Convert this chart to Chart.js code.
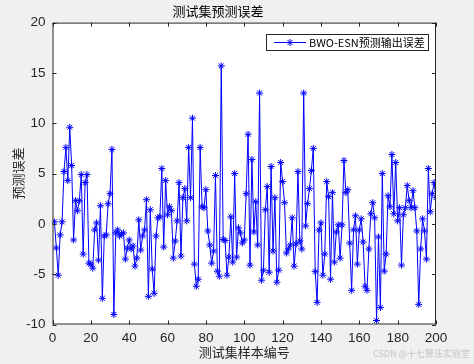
<!DOCTYPE html>
<html>
<head>
<meta charset="utf-8">
<title>测试集预测误差</title>
<script src="https://cdn.jsdelivr.net/npm/chart.js@4.4.1/dist/chart.umd.min.js"></script>
<style>
    html, body { margin: 0; padding: 0; background: #f0f0f0; }
    #wrap { position: relative; width: 474px; height: 364px; }
</style>
</head>
<body>
<div id="wrap"><canvas id="errChart"></canvas></div>
<script>
const chartTitle = '测试集预测误差';
const xAxisTitle = '测试集样本编号';
const yAxisTitle = '预测误差';
const seriesName = 'BWO-ESN预测输出误差';
const watermark = 'CSDN @十七算法实验室';

const xTicks = [0, 20, 40, 60, 80, 100, 120, 140, 160, 180, 200];
const yTicks = [-10, -5, 0, 5, 10, 15, 20];

// prediction error of each test sample
const errorVals = [
    0.2, -2.4, -5.1, -1.1, 0.2, 5.2, 7.6, 4.3, 9.6, 5.8,
    -1.6, 2.3, 1.3, 2.3, 4.9, -3.0, 4.1, 4.9, -3.9, -4.0,
    -4.4, -0.6, 0.1, -3.6, 1.8, -7.4, -1.2, -1.1, 2.0, 3.0,
    7.4, -9.0, -0.9, -0.6, -1.2, -1.0, -0.9, -3.5, -2.4, -1.6,
    -2.5, -2.2, -4.2, -3.4, 0.4, -2.6, -1.2, -0.6, 2.4, -7.2,
    1.4, -4.5, -6.9, -1.2, 0.6, 0.7, 5.5, -2.3, 4.3, 0.9,
    1.7, 1.3, -3.4, -1.7, 0.3, 4.1, -3.2, 2.6, 3.5, 0.3,
    7.6, 2.6, 10.5, -4.0, -6.2, -5.5, 7.6, 1.7, 1.6, 3.4,
    -0.7, -2.1, -3.9, -2.7, 4.8, -4.7, -5.2, 15.7, -1.55, -1.65,
    -5.1, -3.3, 0.7, -3.8, 5.0, -3.3, -0.4, -0.9, -1.9, -1.6,
    3.0, 8.9, -4.1, 6.4, -0.8, 2.2, -2.1, 13.0, -5.6, -4.6,
    1.4, 3.7, -4.8, 5.7, -2.7, 2.6, -5.8, -4.6, 6.1, 4.2,
    2.1, -2.9, -2.5, -2.1, 0.6, -4.2, -2.0, 5.2, -1.7, -2.5,
    13.0, -0.2, 2.0, 3.5, 5.3, 7.5, -4.75, -7.8, -0.6, 0.1,
    -5.1, -3.0, 4.2, 2.7, -5.5, 3.1, -3.8, -0.8, -0.1, -3.4,
    -0.1, 6.3, 3.1, 3.4, -1.9, -6.6, -0.6, 0.8, -4.0, -0.6,
    0.5, -1.8, -6.2, -6.6, -2.5, 1.0, 2.1, 0.6, -9.6, -1.3,
    -8.3, 5.0, -4.7, -3.0, 2.8, 1.7, 6.9, 1.0, 6.1, 0.3,
    1.6, -4.1, 0.9, 1.6, 3.8, 2.3, 1.6, 3.3, 1.6, -0.7,
    -8.0, -2.5, 0.5, -0.7, -3.5, 5.5, 1.2, 3.0, 4.1, 2.6
];
const sampleNo = errorVals.map((v, i) => i + 1);

const lineBlue = '#0000ff';
const axisGray = '#262626';
const cjkFont = '"Noto Sans CJK SC", "Liberation Sans", sans-serif';
const numFont = '"Liberation Sans", Arial, sans-serif';

function drawStar(ctx, cx, cy, r) {
    const d = r * Math.SQRT1_2;
    ctx.beginPath();
    ctx.moveTo(cx - r, cy); ctx.lineTo(cx + r, cy);
    ctx.moveTo(cx, cy - r); ctx.lineTo(cx, cy + r);
    ctx.moveTo(cx - d, cy - d); ctx.lineTo(cx + d, cy + d);
    ctx.moveTo(cx - d, cy + d); ctx.lineTo(cx + d, cy - d);
    ctx.stroke();
}

// MATLAB-like frame: grey figure, white axes, inward ticks on all sides, boxed legend
const matlabFrame = {
    id: 'matlabFrame',
    beforeDraw(chart) {
        const { ctx, chartArea: a } = chart;
        ctx.save();
        ctx.fillStyle = '#f0f0f0';
        ctx.fillRect(0, 0, chart.width, chart.height);
        ctx.fillStyle = '#ffffff';
        ctx.fillRect(a.left, a.top, a.right - a.left, a.bottom - a.top);
        ctx.restore();
    },
    afterDraw(chart) {
        const { ctx, chartArea: a, scales: { x, y } } = chart;
        ctx.save();
        ctx.strokeStyle = axisGray;
        ctx.lineWidth = 1;
        ctx.strokeRect(a.left + 0.5, a.top + 0.5, a.right - a.left - 1, a.bottom - a.top - 1);

        ctx.beginPath();
        xTicks.forEach(v => {
            const px = Math.round(x.getPixelForValue(v)) + 0.5;
            ctx.moveTo(px, a.bottom); ctx.lineTo(px, a.bottom - 4);
            ctx.moveTo(px, a.top); ctx.lineTo(px, a.top + 4);
        });
        yTicks.forEach(v => {
            const py = Math.round(y.getPixelForValue(v)) + 0.5;
            ctx.moveTo(a.left, py); ctx.lineTo(a.left + 4, py);
            ctx.moveTo(a.right, py); ctx.lineTo(a.right - 4, py);
        });
        ctx.stroke();

        // legend box in the upper right corner
        const lw = 162, lh = 16;
        const lx = Math.round(a.right - 8 - lw), ly = Math.round(a.top + 11);
        ctx.fillStyle = '#ffffff';
        ctx.fillRect(lx, ly, lw, lh);
        ctx.strokeStyle = axisGray;
        ctx.strokeRect(lx + 0.5, ly + 0.5, lw, lh);
        const my = ly + lh / 2 + 0.5;
        ctx.strokeStyle = lineBlue;
        ctx.beginPath();
        ctx.moveTo(lx + 8, my); ctx.lineTo(lx + 40, my);
        ctx.stroke();
        drawStar(ctx, lx + 24, my, 3.5);
        ctx.fillStyle = '#000000';
        ctx.font = '11px ' + cjkFont;
        ctx.textBaseline = 'middle';
        ctx.textAlign = 'left';
        ctx.fillText(seriesName, lx + 43, my);

        ctx.fillStyle = '#c4c4c4';
        ctx.font = '9px ' + cjkFont;
        ctx.textAlign = 'right';
        ctx.fillText(watermark, chart.width - 4, chart.height - 10);
        ctx.restore();
    }
};

new Chart(document.getElementById('errChart'), {
    type: 'line',
    data: {
        datasets: [{
            label: seriesName,
            data: sampleNo.map((n, i) => ({ x: n, y: errorVals[i] })),
            borderColor: lineBlue,
            borderWidth: 1,
            pointStyle: 'star',
            pointRadius: 3.5,
            pointBorderColor: lineBlue,
            pointBackgroundColor: lineBlue,
            pointBorderWidth: 1,
            tension: 0,
            fill: false
        }]
    },
    options: {
        responsive: true,
        maintainAspectRatio: false,
        animation: false,
        events: [],
        layout: { padding: { left: 0, right: 38, top: 0, bottom: 0 } },
        plugins: {
            legend: { display: false },
            tooltip: { enabled: false },
            title: {
                display: true,
                text: chartTitle,
                color: '#000000',
                font: { family: cjkFont, size: 13, weight: 'normal', lineHeight: 1.2 },
                padding: { top: 3.7, bottom: 3.3 }
            }
        },
        scales: {
            x: {
                type: 'linear',
                min: 0,
                max: 200,
                afterBuildTicks: s => { s.ticks = xTicks.map(v => ({ value: v })); },
                afterFit: s => { s.height = 39.5; },
                grid: { display: false, drawTicks: false },
                border: { display: false },
                ticks: { color: axisGray, font: { family: numFont, size: 13.5 }, padding: 6, maxRotation: 0, autoSkip: false },
                title: {
                    display: true,
                    text: xAxisTitle,
                    color: axisGray,
                    font: { family: cjkFont, size: 13, lineHeight: 1.2 },
                    padding: { top: 0, bottom: 4.2 }
                }
            },
            y: {
                type: 'linear',
                min: -10,
                max: 20,
                afterBuildTicks: s => { s.ticks = yTicks.map(v => ({ value: v })); },
                afterFit: s => { s.width = 52.5; },
                grid: { display: false, drawTicks: false },
                border: { display: false },
                ticks: { color: axisGray, font: { family: numFont, size: 13.5 }, padding: 7, autoSkip: false },
                title: {
                    display: true,
                    text: yAxisTitle,
                    color: axisGray,
                    font: { family: cjkFont, size: 13, lineHeight: 1.2 },
                    padding: { top: 10.2, bottom: 0 }
                }
            }
        }
    },
    plugins: [matlabFrame]
});
</script>
</body>
</html>
